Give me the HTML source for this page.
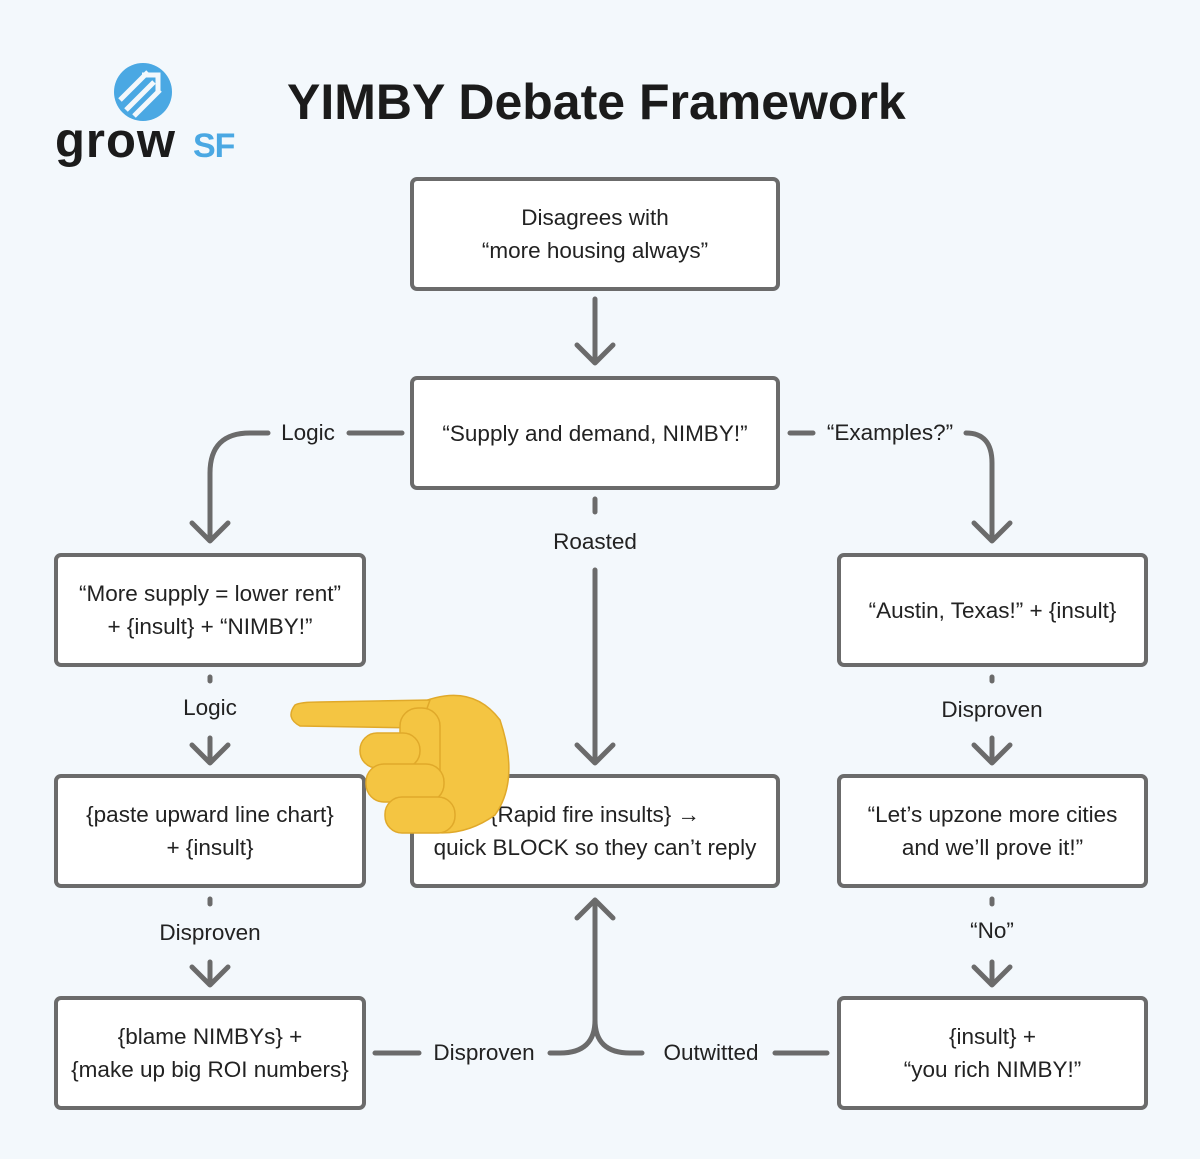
<!DOCTYPE html>
<html><head><meta charset="utf-8"><style>
html,body{margin:0;padding:0;background:#f3f8fc;}
body{width:1200px;height:1159px;position:relative;overflow:hidden;font-family:"Liberation Sans",sans-serif;}
.box{position:absolute;box-sizing:border-box;border:4px solid #6b6b6b;border-radius:7px;background:#fff;display:flex;align-items:center;justify-content:center;text-align:center;font-size:22.5px;line-height:33px;color:#222;}
.lbl{position:absolute;font-size:22.5px;color:#222;transform:translate(-50%,-50%);white-space:nowrap;background:#f3f8fc;}
</style></head><body>
<svg width="1200" height="1159" style="position:absolute;left:0;top:0">
<g fill="none" stroke="#6b6b6b" stroke-width="5" stroke-linecap="round" stroke-linejoin="round">
<path d="M595 299V363M577 345L595 363L613 345"/>
<path d="M402 433H349M268 433H250Q210 433 210 473V541M192 523L210 541L228 523"/>
<path d="M790 433H813M966 433Q992 433 992 463V541M974 523L992 541L1010 523"/>
<path d="M595 499V512M595 570V763M577 745L595 763L613 745"/>
<path d="M210 677V681M210 738V763M192 745L210 763L228 745"/>
<path d="M210 899V904M210 962V985M192 967L210 985L228 967"/>
<path d="M992 677V681M992 738V763M974 745L992 763L1010 745"/>
<path d="M992 899V904M992 962V985M974 967L992 985L1010 967"/>
<path d="M375 1053H419M550 1053H560Q595 1053 595 1020V900M577 918L595 900L613 918M642 1053H630Q595 1053 595 1020M775 1053H827"/>
</g>
<g>
<circle cx="143" cy="92" r="29" fill="#4aa8e3"/>
<g stroke="#f3f8fc" stroke-width="5" fill="none"><path d="M120 100L148 72M126 110L154 82M134 116L160 90M142 75H158V91"/></g>
</g>
</svg>
<div style="position:absolute;left:55px;top:116px;font-size:49px;font-weight:bold;color:#1b1b1b;letter-spacing:1px;line-height:50px">grow</div>
<div style="position:absolute;left:193px;top:126px;font-size:34px;font-weight:bold;color:#4aa8e3;letter-spacing:-1px;line-height:40px">SF</div>
<div style="position:absolute;left:287px;top:72px;font-size:50px;font-weight:bold;color:#1b1b1b;line-height:60px;letter-spacing:0px">YIMBY Debate Framework</div>

<div class="box" style="left:410px;top:177px;width:370px;height:114px">Disagrees with<br>“more housing always”</div>
<div class="box" style="left:410px;top:376px;width:370px;height:114px">“Supply and demand, NIMBY!”</div>
<div class="box" style="left:54px;top:553px;width:312px;height:114px">“More supply = lower rent”<br>+ {insult} + “NIMBY!”</div>
<div class="box" style="left:837px;top:553px;width:311px;height:114px">“Austin, Texas!” + {insult}</div>
<div class="box" style="left:54px;top:774px;width:312px;height:114px">{paste upward line chart}<br>+ {insult}</div>
<div class="box" style="left:410px;top:774px;width:370px;height:114px">{Rapid fire insults} →<br>quick BLOCK so they can’t reply</div>
<div class="box" style="left:837px;top:774px;width:311px;height:114px">“Let’s upzone more cities<br>and we’ll prove it!”</div>
<div class="box" style="left:54px;top:996px;width:312px;height:114px">{blame NIMBYs} +<br>{make up big ROI numbers}</div>
<div class="box" style="left:837px;top:996px;width:311px;height:114px">{insult} +<br>“you rich NIMBY!”</div>

<div class="lbl" style="left:308px;top:433px">Logic</div>
<div class="lbl" style="left:890px;top:433px">“Examples?”</div>
<div class="lbl" style="left:595px;top:542px">Roasted</div>
<div class="lbl" style="left:210px;top:708px">Logic</div>
<div class="lbl" style="left:210px;top:933px">Disproven</div>
<div class="lbl" style="left:992px;top:710px">Disproven</div>
<div class="lbl" style="left:992px;top:931px">“No”</div>
<div class="lbl" style="left:484px;top:1053px">Disproven</div>
<div class="lbl" style="left:711px;top:1053px">Outwitted</div>

<svg width="1200" height="1159" style="position:absolute;left:0;top:0">
<g fill="#f4c542" stroke="#e0a92a" stroke-width="1.5">
<path d="M415 705Q470 680 500 720Q520 780 495 815Q460 840 420 830L400 800Z"/>
<path d="M295 705Q285 718 300 726L420 728L430 700L320 702Q300 702 295 705Z"/>
<rect x="400" y="708" width="40" height="95" rx="18"/>
<rect x="360" y="733" width="60" height="35" rx="17"/>
<rect x="366" y="764" width="78" height="38" rx="18"/>
<rect x="385" y="797" width="70" height="36" rx="17"/>
</g>
</svg>
</body></html>
